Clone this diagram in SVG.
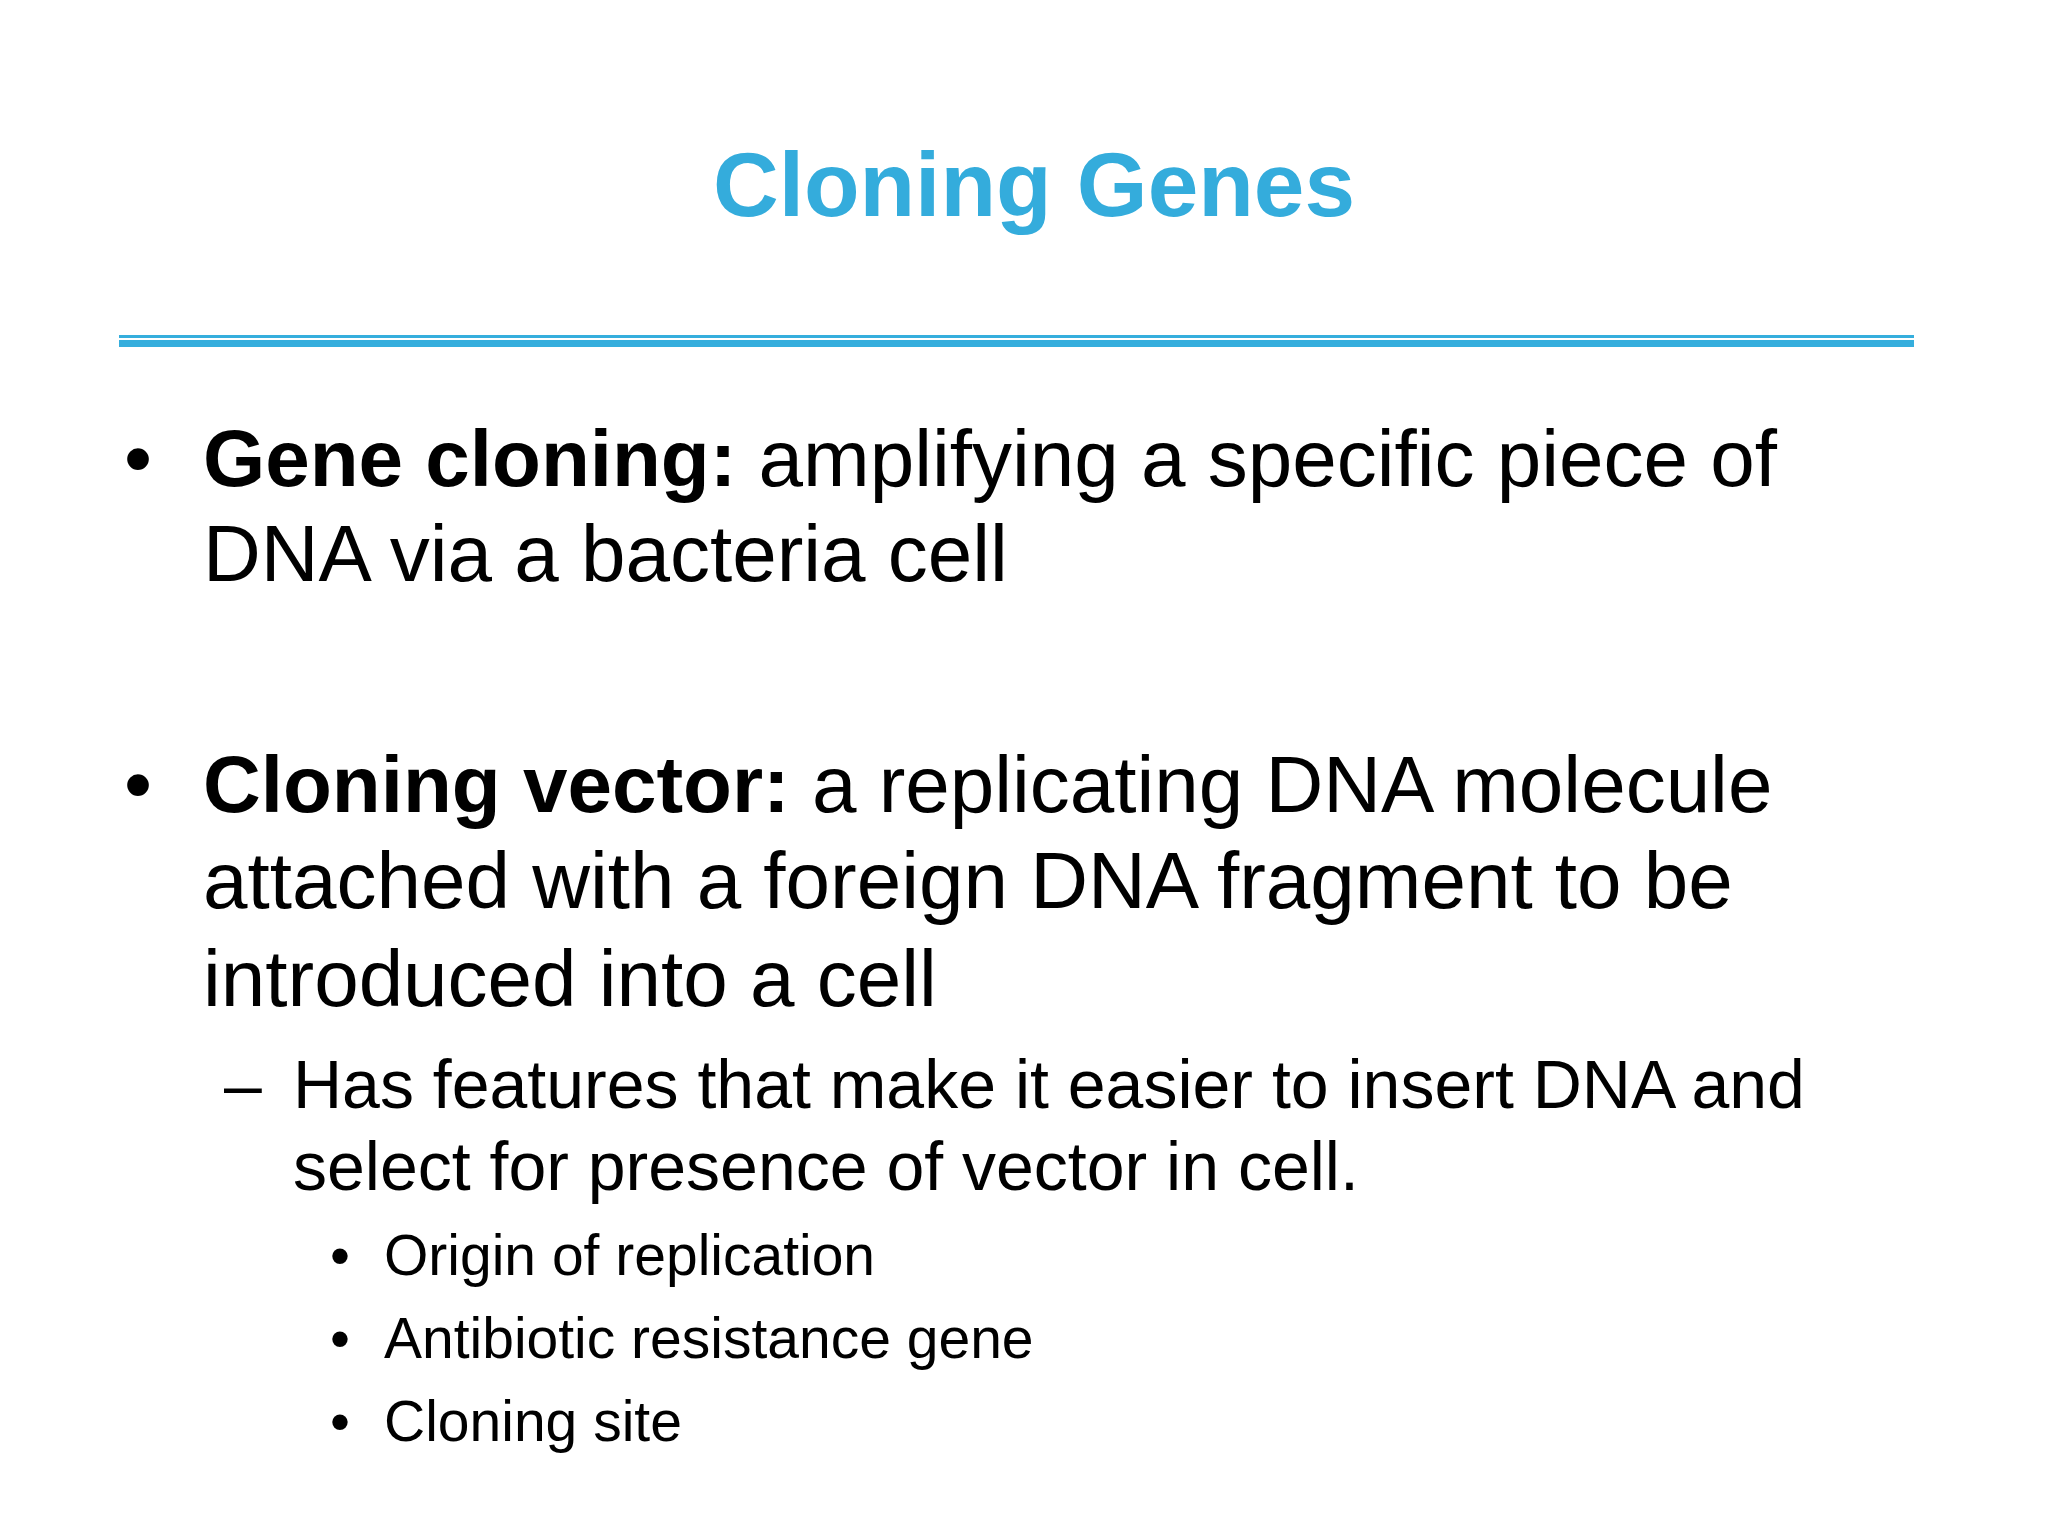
<svg xmlns="http://www.w3.org/2000/svg" width="2048" height="1536" viewBox="0 0 2048 1536">
<style>
text{font-family:"Liberation Sans",Arial,sans-serif;fill:#000}
.b{font-weight:bold}
.l1{font-size:80px}
.l2{font-size:68px}
.l3{font-size:57px}
</style>
<rect width="2048" height="1536" fill="#fff"/>
<g id="title">
<text x="1034" y="216" text-anchor="middle" font-size="91" font-weight="bold" style="fill:#34acdc">Cloning Genes</text>
</g>
<g id="rule">
<rect x="119" y="335" width="1795" height="3" fill="#35aedd"/>
<rect x="119" y="340" width="1795" height="7" fill="#35aedd"/>
</g>
<g id="body">
<text class="l1" x="124" y="486">•</text>
<text class="l1" x="203" y="486"><tspan class="b">Gene cloning:</tspan> amplifying a specific piece of</text>
<text class="l1" x="203" y="581">DNA via a bacteria cell</text>
<text class="l1" x="124" y="812">•</text>
<text class="l1" x="203" y="812"><tspan class="b">Cloning vector:</tspan> a replicating DNA molecule</text>
<text class="l1" x="203" y="908">attached with a foreign DNA fragment to be</text>
<text class="l1" x="203" y="1006">introduced into a cell</text>
<text class="l2" x="224" y="1108">–</text>
<text class="l2" x="293" y="1108">Has features that make it easier to insert DNA and</text>
<text class="l2" x="293" y="1190">select for presence of vector in cell.</text>
<text class="l3" x="330" y="1275">•</text>
<text class="l3" x="384" y="1275">Origin of replication</text>
<text class="l3" x="330" y="1358">•</text>
<text class="l3" x="384" y="1358">Antibiotic resistance gene</text>
<text class="l3" x="330" y="1441">•</text>
<text class="l3" x="384" y="1441">Cloning site</text>
</g>
</svg>
